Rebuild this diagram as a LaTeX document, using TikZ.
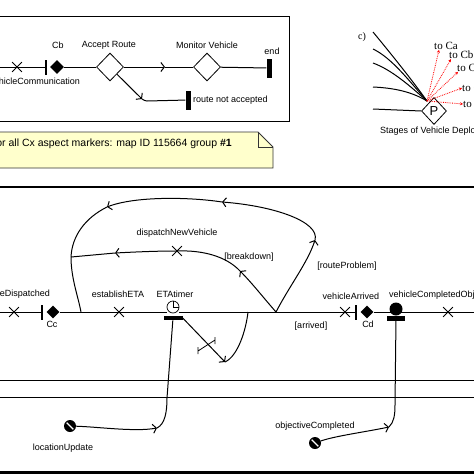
\documentclass[tikz,border=0pt]{standalone}
\usepackage{fontspec}
\setmainfont{Liberation Sans}
\newfontfamily\timesfont{Liberation Serif}
\usepackage{tikz}
\usepackage{xcolor}
\usetikzlibrary{
    arrows.meta,
    shapes.geometric,
    shapes.misc,
    calc,
    positioning
}
\definecolor{notefill}{RGB}{255,255,204}
\tikzset{
    >={Straight Barb[length=3.5pt,width=9pt]},
    flow/.style={line width=1pt},
    xmark/.style={cross out, draw, line width=0.8pt, minimum size=9pt, inner sep=0pt},
    thinbar/.style={fill=black, minimum width=1.8pt, minimum height=15pt, inner sep=0pt},
    thickbar/.style={fill=black, minimum width=5pt, minimum height=19pt, inner sep=0pt},
    timebar/.style={fill=black, minimum width=19pt, minimum height=4.5pt, inner sep=0pt},
    soliddiam/.style={diamond, fill=black, minimum width=14pt, minimum height=14pt, inner sep=0pt},
    opendiam/.style={diamond, draw, fill=white, line width=0.8pt, minimum width=27pt, minimum height=28pt, inner sep=0pt},
    sigdot/.style={circle, fill=black, minimum size=12pt, inner sep=0pt,
        path picture={\draw[white, line width=1.2pt]
            ($(path picture bounding box.north west)!0.22!(path picture bounding box.south east)$) --
            ($(path picture bounding box.north west)!0.78!(path picture bounding box.south east)$);}},
    clock/.style={circle, draw, fill=white, minimum size=12pt, inner sep=0pt, line width=0.7pt,
        path picture={\draw[line width=0.6pt]
            (path picture bounding box.center) -- (path picture bounding box.north)
            (path picture bounding box.center) -- (path picture bounding box.east);}},
    lbl/.style={font=\fontsize{9}{10}\selectfont, inner sep=0pt},
    totag/.style={font=\timesfont\fontsize{11}{12}\selectfont, inner sep=0pt, anchor=west},
    tolink/.style={red, densely dotted, line width=0.8pt, -{Stealth[length=3pt,width=3pt]}}
}

\begin{document}
\begin{tikzpicture}[x=1pt, y=-1pt]
    \useasboundingbox (0,0) rectangle (474,474);
    \clip (0,0) rectangle (474,474);

    % upper box
    \draw[line width=1pt] (-5,16) rectangle (289,121);
    \coordinate (tbstart) at (-5,67);
    \node[xmark] (xcomm) at (17,67) {};
    \node[thinbar] (barcb) at (46,67) {};
    \node[soliddiam] (cb) at (57,67) {};
    \node[opendiam] (accept) at (110,67) {};
    \node[opendiam] (monitor) at (207,67) {};
    \node[thickbar] (endbar) at (269,68) {};
    \node[thickbar] (rnabar) at (188,100) {};
    \coordinate (monarrow) at (165,67);
    \coordinate (acceptbend) at (142,99);
    \node[lbl, anchor=east] (lblcomm) at (80,81) {vehicleCommunication};
    \node[lbl] (lblcb) at (58,45) {Cb};
    \node[lbl] (lblaccept) at (109,45) {Accept Route};
    \node[lbl] (lblmonitor) at (207,45) {Monitor Vehicle};
    \node[lbl] (lblend) at (272,51) {end};
    \node[lbl, anchor=west] (lblrna) at (193,100) {route not accepted};

    \draw[flow] (tbstart) -- (barcb);
    \draw[flow] (cb) -- (accept);
    \draw[flow, ->] (accept) -- (monarrow);
    \draw[flow] (monarrow) -- (monitor);
    \draw[flow] (monitor) -- (endbar);
    \draw[flow, ->] (accept.south east) -- (acceptbend);
    \draw[flow] (acceptbend) to[out=-30, in=180] (147,101) -- (rnabar);

    % note
    \draw[fill=notefill, draw=black!80, line width=0.8pt]
        (-5,132) -- (258,132) -- (273,147) -- (273,168) -- (-5,168) -- cycle;
    \draw[draw=black!80, line width=0.8pt] (258,132) -- (258,147) -- (273,147);
    \node[inner sep=0pt, anchor=east, font=\fontsize{10.5}{12}\selectfont] (notetext) at (232,144)
        {For all Cx aspect markers: map ID 115664 group \textbf{\#1}};

    % c) stages
    \node[font=\timesfont\fontsize{10}{11}\selectfont] (lblc) at (362,37) {c)};
    \node[diamond, draw, line width=0.8pt, minimum width=25pt, minimum height=27pt, inner sep=0pt,
        font=\fontsize{13}{14}\selectfont] (pnode) at (434,111) {P};
    \coordinate (pmeet) at (427,101);
    \coordinate (st1) at (373,32);
    \coordinate (st2) at (373,49);
    \coordinate (st3) at (373,63);
    \coordinate (st4) at (373,87);
    \coordinate (st5) at (373,109);
    \draw[flow] (st1) .. controls (392,55) and (412,80) .. (pmeet);
    \draw[flow] (st2) .. controls (392,58) and (410,82) .. (pmeet);
    \draw[flow] (st3) .. controls (392,70) and (410,86) .. (pmeet);
    \draw[flow] (st4) .. controls (395,88) and (412,92) .. (pmeet);
    \draw[flow] (st5) -- (pnode.west);
    \node[totag] (toca) at (434,46) {to Ca};
    \node[totag] (tocb) at (449,55) {to Cb};
    \node[totag] (tocc) at (457,68) {to Cc};
    \node[totag] (tocd) at (462,88) {to Cd};
    \node[totag] (toce) at (463,104) {to Ce};
    \draw[tolink] (pmeet) -- ([xshift=5pt]toca.south west);
    \draw[tolink] (pmeet) -- ([xshift=2pt]tocb.south west);
    \draw[tolink] (pmeet) -- ([xshift=1pt]tocc.south west);
    \draw[tolink] (pmeet) -- (tocd.west);
    \draw[tolink] (pmeet) -- (toce.west);
    \node[lbl, anchor=west] (lblstages) at (380,131) {Stages of Vehicle Deployment};

    % lower diagram
    \draw[line width=2pt] (0,187) -- (474,187);
    \coordinate (mlstart) at (0,312);
    \coordinate (mlend) at (474,312);
    \node[xmark] (xdisp) at (14,312) {};
    \node[thinbar] (barcc) at (42,312) {};
    \node[soliddiam, minimum width=13pt, minimum height=13pt] (cc) at (53,312) {};
    \coordinate (loopjoin) at (81,312);
    \node[xmark] (xeta) at (119,312) {};
    \node[clock] (etatimer) at (173,307) {};
    \node[timebar] (etabar) at (173,318) {};
    \coordinate (backjoin) at (248,312);
    \coordinate (split) at (276,312);
    \node[xmark] (xarr) at (345,312) {};
    \node[thinbar] (barcd) at (356,312) {};
    \node[soliddiam, minimum width=13pt, minimum height=13pt] (cd) at (367,312) {};
    \node[circle, fill=black, minimum size=13pt, inner sep=0pt] (vcdone) at (396,309) {};
    \node[timebar, minimum width=18pt, minimum height=5pt] (vcbar) at (396,318) {};
    \node[xmark] (xobj) at (448,312) {};

    \draw[flow] (mlstart) -- (barcc);
    \draw[flow] (cc) -- (etatimer.west |- cc);
    \draw[flow] (etatimer.east |- cc) -- (barcd);
    \draw[flow] (cd) -- (mlend);

    \node[lbl, anchor=east] (lbldisp) at (50,294) {vehicleDispatched};
    \node[lbl] (lblcc) at (52,324) {Cc};
    \node[lbl] (lbleta) at (118,294) {establishETA};
    \node[lbl] (lbltimer) at (175,294) {ETAtimer};
    \node[lbl] (lblarr) at (311,326) {[arrived]};
    \node[lbl] (lblvarr) at (351,296) {vehicleArrived};
    \node[lbl] (lblcd) at (368,324) {Cd};
    \node[lbl, anchor=west] (lblvco) at (389,295) {vehicleCompletedObjective};

    % route problem loop
    \coordinate (rparrow) at (315,240);
    \coordinate (toparrow) at (222,202);
    \coordinate (leftarrow) at (107,207);
    \coordinate (leftjoin) at (71,257);
    \draw[flow, ->] (split) .. controls (290,285) and (308,262) .. (rparrow);
    \draw[flow, ->] (rparrow) .. controls (320,222) and (275,206) .. (toparrow);
    \draw[flow, ->] (toparrow) .. controls (190,197) and (135,196) .. (leftarrow);
    \draw[flow] (leftarrow) .. controls (85,218) and (72,236) .. (leftjoin)
        .. controls (71,278) and (78,296) .. (loopjoin);
    \node[lbl] (lblroute) at (347,266) {[routeProblem]};

    % breakdown branch
    \node[xmark] (xnew) at (177,251) {};
    \coordinate (bdarrow) at (240,271);
    \coordinate (dnarrow) at (115,253);
    \draw[flow, ->] (split) .. controls (262,296) and (252,283) .. (bdarrow);
    \draw[flow] (bdarrow) .. controls (226,256) and (202,250) .. (xnew.center);
    \draw[flow, ->] (xnew.center) .. controls (155,251) and (135,252) .. (dnarrow);
    \draw[flow] (dnarrow) -- (leftjoin);
    \node[lbl] (lblnew) at (177,233) {dispatchNewVehicle};
    \node[lbl] (lblbreak) at (249,257) {[breakdown]};

    % timer branch
    \coordinate (etaarrow) at (225,362);
    \draw[flow, ->] (etabar.east) -- (etaarrow);
    \draw[flow] (etaarrow) .. controls (238,356) and (246,330) .. (backjoin);
    \draw[line width=0.8pt] (198,347) -- (198,354) (198,351) -- (215,340) (215,337) -- (215,344);

    % lanes
    \draw[line width=0.8pt] (0,380) -- (474,380);
    \draw[line width=0.8pt] (0,397) -- (474,397);
    \draw[line width=3pt] (0,472.5) -- (474,472.5);

    % signals
    \node[sigdot] (locupd) at (70,426) {};
    \node[lbl] (lbllocupd) at (63,448) {locationUpdate};
    \node[sigdot] (objdone) at (315,443) {};
    \node[lbl] (lblobj) at (315,426) {objectiveCompleted};
    \coordinate (luarrow) at (157,428);
    \coordinate (luup) at (167,398);
    \coordinate (ocarrow) at (389,427);
    \coordinate (ocup) at (395,405);
    \draw[flow, ->] (locupd) .. controls (100,427) and (135,432) .. (luarrow);
    \draw[flow] (luarrow) .. controls (165,424) and (167,412) .. (luup) -- (etabar);
    \draw[flow, ->] (objdone) .. controls (335,436) and (365,432) .. (ocarrow);
    \draw[flow] (ocarrow) .. controls (394,422) and (395,415) .. (ocup) -- (vcbar);
\end{tikzpicture}
\end{document}
